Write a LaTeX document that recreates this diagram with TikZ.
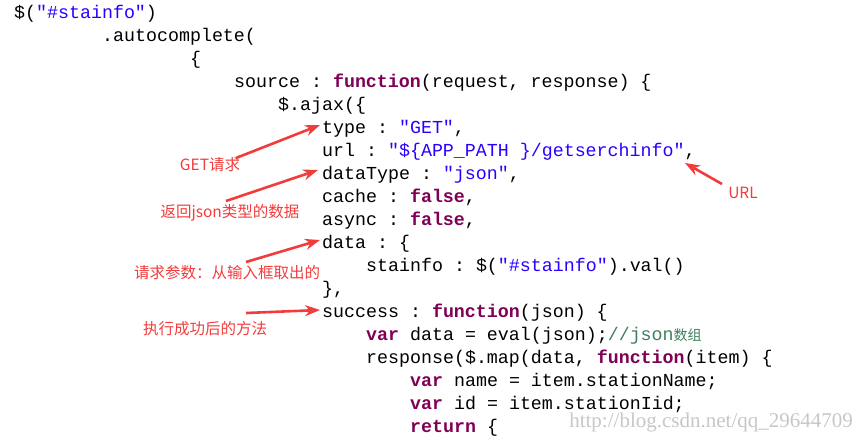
\documentclass[tikz,border=0pt]{standalone}
\usepackage{fontspec}
\setmonofont{Liberation Mono}
\newfontfamily\cjk{Noto Sans CJK SC}
\newfontfamily\wmfont{Liberation Serif}
\usetikzlibrary{arrows.meta}
\definecolor{kwc}{HTML}{7F0055}
\definecolor{strc}{HTML}{2A00FF}
\definecolor{cmc}{HTML}{3F7F5F}
\definecolor{annc}{HTML}{F23C3C}
\newcommand{\kw}[1]{\textcolor{kwc}{\textbf{#1}}}
\newcommand{\st}[1]{\textcolor{strc}{#1}}
\begin{document}
\begin{tikzpicture}[x=1pt,y=-1pt,
  code/.style={anchor=base west,inner sep=0pt,font=\ttfamily\fontsize{18.3}{20}\selectfont},
  ann/.style={inner sep=0pt,text=annc,font=\cjk\fontsize{15.5}{17}\selectfont},
  arr/.style={draw=annc,line width=2.6pt,-{Stealth[length=15pt,width=11pt]}}]
\useasboundingbox (0,0) rectangle (864,442);
\def\cw{11}
\node[code] (l0) at (14,18) {\$(\st{"\#stainfo"})};
\node[code] (l1) at (14+8*\cw,41) {.autocomplete(};
\node[code] (l2) at (14+16*\cw,64) {\{};
\node[code] (l3) at (14+20*\cw,87) {source : \kw{function}(request, response) \{};
\node[code] (l4) at (14+24*\cw,110) {\$.ajax(\{};
\node[code] (l5) at (14+28*\cw,133) {type : \st{"GET"},};
\node[code] (l6) at (14+28*\cw,156) {url : \st{"\$\{APP\_PATH \}/getserchinfo"},};
\node[code] (l7) at (14+28*\cw,179) {dataType : \st{"json"},};
\node[code] (l8) at (14+28*\cw,202) {cache : \kw{false},};
\node[code] (l9) at (14+28*\cw,225) {async : \kw{false},};
\node[code] (l10) at (14+28*\cw,248) {data : \{};
\node[code] (l11) at (14+32*\cw,271) {stainfo : \$(\st{"\#stainfo"}).val()};
\node[code] (l12) at (14+28*\cw,294) {\},};
\node[code] (l13) at (14+28*\cw,317) {success : \kw{function}(json) \{};
\node[code] (l14) at (14+32*\cw,340) {\kw{var} data = eval(json);\textcolor{cmc}{//json{\cjk\fontsize{14}{16}\selectfont 数组}}};
\node[code] (l15) at (14+32*\cw,363) {response(\$.map(data, \kw{function}(item) \{};
\node[code] (l16) at (14+36*\cw,386) {\kw{var} name = item.stationName;};
\node[code] (l17) at (14+36*\cw,409) {\kw{var} id = item.stationIid;};
\node[code] (l18) at (14+36*\cw,432) {\kw{return} \{};
\node[anchor=base east,inner sep=0pt,text=black!22,font=\wmfont\fontsize{21}{23}\selectfont] (wm) at (853,427) {http://blog.csdn.net/qq\_29644709};
\node[ann] (a1) at (210,165) {GET请求};
\node[ann] (a2) at (230,213) {返回json类型的数据};
\node[ann] (a3) at (227,273) {请求参数：从输入框取出的};
\node[ann] (a4) at (205,329) {执行成功后的方法};
\node[ann] (a5) at (743,193) {URL};
\coordinate (t1) at (320,125);
\coordinate (t2) at (318,170);
\coordinate (t3) at (320,240);
\coordinate (t4) at (320,310);
\coordinate (t5) at (685,163);
\coordinate (s1) at (236,158);
\coordinate (s2) at (226,201);
\coordinate (s3) at (246,262);
\coordinate (s4) at (246,313);
\coordinate (s5) at (722,184);
\draw[arr] (s1) -- (t1);
\draw[arr] (s2) -- (t2);
\draw[arr] (s3) -- (t3);
\draw[arr] (s4) -- (t4);
\draw[arr] (s5) -- (t5);
\end{tikzpicture}
\end{document}
